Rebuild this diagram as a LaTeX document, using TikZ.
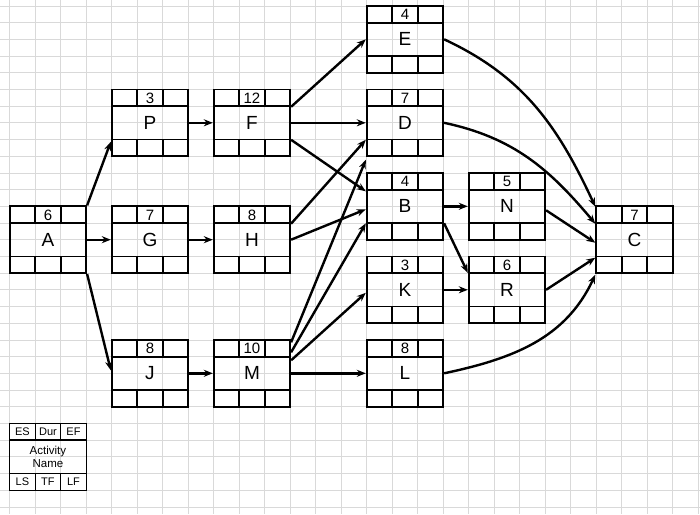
\documentclass[tikz,border=0pt]{standalone}
\usepackage{fontspec}
\setmainfont{Liberation Sans}
\usetikzlibrary{calc,arrows.meta}
\begin{document}
\begin{tikzpicture}[x=1pt,y=-1pt,
  box/.style={draw,line width=1.8pt,minimum width=76.5pt,minimum height=66.8pt,inner sep=0pt,font=\fontsize{19}{19}\selectfont},
  arr/.style={line width=2.4pt,-{Stealth[length=9pt,width=7pt]}},
  dig/.style={font=\fontsize{15}{15}\selectfont,inner sep=0pt},
  lgt/.style={font=\fontsize{11}{11}\selectfont,inner sep=0pt}]
\useasboundingbox (0,0) rectangle (700,514);
\fill[white] (0,0) rectangle (700,514);
\foreach \i in {0,...,27} \draw[gray!30,line width=0.8pt] (9.7+25.5*\i,0) -- (9.7+25.5*\i,514);
\foreach \j in {0,...,30} \draw[gray!30,line width=0.8pt] (0,5.9+16.7*\j) -- (700,5.9+16.7*\j);
\newcommand\actbox[5]{%
  \pgfmathsetmacro\xo{9.7+25.5*#2}\pgfmathsetmacro\yo{5.9+16.7*#3}%
  \node[box] (#1) at (\xo+38.25,\yo+33.4) {#5};
  \draw[line width=1.8pt] (\xo,\yo+16.7) -- ++(76.5,0) (\xo,\yo+50.1) -- ++(76.5,0)
    (\xo+25.5,\yo) -- ++(0,16.7) (\xo+51,\yo) -- ++(0,16.7)
    (\xo+25.5,\yo+50.1) -- ++(0,16.7) (\xo+51,\yo+50.1) -- ++(0,16.7);
  \node[dig] at (\xo+38.25,\yo+8.9) {#4};
}
\actbox{A}{0}{12}{6}{A}
\actbox{G}{4}{12}{7}{G}
\actbox{H}{8}{12}{8}{H}
\actbox{P}{4}{5}{3}{P}
\actbox{F}{8}{5}{12}{F}
\actbox{J}{4}{20}{8}{J}
\actbox{M}{8}{20}{10}{M}
\actbox{E}{14}{0}{4}{E}
\actbox{D}{14}{5}{7}{D}
\actbox{B}{14}{10}{4}{B}
\actbox{K}{14}{15}{3}{K}
\actbox{L}{14}{20}{8}{L}
\actbox{N}{18}{10}{5}{N}
\actbox{R}{18}{15}{6}{R}
\actbox{C}{23}{12}{7}{C}
% legend
\node[draw,line width=1.4pt,minimum width=76.5pt,minimum height=66.8pt,inner sep=0pt,align=center,font=\fontsize{11.5}{13}\selectfont] (LG) at (47.95,456.8) {Activity\\Name};
\draw[line width=1.4pt] (9.7,440.1) -- ++(76.5,0) (9.7,473.5) -- ++(76.5,0)
  (35.2,423.4) -- ++(0,16.7) (60.7,423.4) -- ++(0,16.7)
  (35.2,473.5) -- ++(0,16.7) (60.7,473.5) -- ++(0,16.7);
\foreach \t/\x in {ES/22.45,Dur/47.95,EF/73.45} \node[lgt] at (\x,432) {\t};
\foreach \t/\x in {LS/22.45,TF/47.95,LF/73.45} \node[lgt] at (\x,482) {\t};
% arrows
\draw[arr] (A.north east) -- ($(P.west)+(0,19)$);
\draw[arr] (A.east) -- (G.west);
\draw[arr] (A.south east) -- ($(J.west)+(0,-3)$);
\draw[arr] (P.east) -- (F.west);
\draw[arr] (G.east) -- (H.west);
\draw[arr] (J.east) -- (M.west);
\draw[arr] ($(F.east)+(0,-16)$) -- (E.west);
\draw[arr] (F.east) -- (D.west);
\draw[arr] ($(F.east)+(0,17)$) -- ($(B.west)+(0,-15)$);
\draw[arr] ($(H.east)+(0,-16)$) -- ($(D.west)+(0,17)$);
\draw[arr] (H.east) -- ($(B.west)+(0,3)$);
\draw[arr] ($(M.east)+(0,-31)$) -- ($(D.west)+(0,37)$);
\draw[arr] ($(M.east)+(0,-21)$) -- ($(B.west)+(0,17)$);
\draw[arr] ($(M.east)+(0,-13)$) -- ($(K.west)+(0,3)$);
\draw[arr] (M.east) -- (L.west);
\draw[arr] (B.east) -- (N.west);
\draw[arr] ($(B.east)+(0,17)$) -- ($(R.west)+(0,-17)$);
\draw[arr] (K.east) -- (R.west);
\draw[arr] ($(N.east)+(0,4)$) -- ($(C.west)+(0,3)$);
\draw[arr] (R.east) -- ($(C.west)+(0,18)$);
\draw[arr] (E.east) to[out=-25,in=115] ($(C.west)+(0,-33)$);
\draw[arr] (D.east) to[out=-12,in=130] ($(C.west)+(0,-16)$);
\draw[arr] (L.east) to[out=12,in=-115] ($(C.west)+(0,35)$);
\end{tikzpicture}
\end{document}
